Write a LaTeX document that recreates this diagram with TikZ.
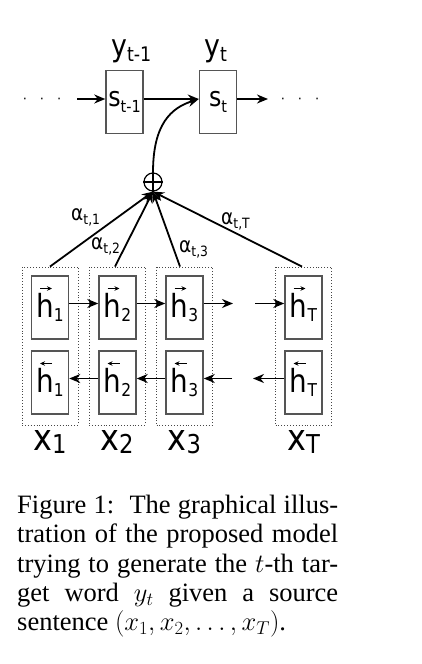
\RequirePackage{fix-cm}
\documentclass[tikz,border=0pt]{standalone}
\usepackage[no-math]{fontspec}
\usepackage{graphicx}
\setmainfont{Liberation Serif}
\newfontfamily\dv{DejaVu Sans}
\usetikzlibrary{arrows.meta}
\definecolor{cellgray}{RGB}{85,85,85}
\definecolor{grpgray}{RGB}{70,70,70}
\newcommand\lbl[5]{\scalebox{1.03}[1.18]{{\fontsize{#3pt}{#3pt}\selectfont #1}\raisebox{#5pt}{\fontsize{#4pt}{#4pt}\selectfont #2}}}
\begin{document}
\begin{tikzpicture}[x=1pt,y=-1pt,
  cell/.style={draw=cellgray,line width=1.5pt,minimum width=37pt,minimum height=63pt,inner sep=0pt,font=\dv},
  grp/.style={draw=grpgray,dotted,line width=0.9pt,minimum width=56pt,minimum height=158pt,inner sep=0pt},
  arr/.style={-{Stealth[length=11pt,width=9pt]},line width=1.8pt},
  hvec/.style={-{Stealth[length=5pt,width=4.5pt]},line width=1pt},
  txt/.style={font=\dv,inner sep=0pt},
  dots/.style={inner sep=0pt,font=\dv\fontsize{13}{13}\selectfont,anchor=base},
]
\fill[white] (0,0) rectangle (422,664);
\useasboundingbox (0,0) rectangle (422,664);

% decoder
\node[cell] (st1) at (124.5,102) {\lbl{s}{t-1}{23}{14}{-5}};
\node[cell] (st) at (218,102) {\lbl{s}{t}{23}{14}{-5}};
\node[txt,anchor=base west] (yt1) at (111,56) {\lbl{y}{t-1}{26}{17}{-5}};
\node[txt,anchor=base west] (yt) at (204,56) {\lbl{y}{t}{26}{17}{-5}};
\node[dots] (dl) at (42,103.5) {·\hspace{13pt}·\hspace{13pt}·};
\node[dots] (dr) at (300,103.5) {·\hspace{13pt}·\hspace{13pt}·};
\coordinate (lin) at (77,99);
\coordinate (rout) at (268,99);
\draw[arr] (lin) -- ([yshift=3pt]st1.west);
\draw[arr] ([yshift=3pt]st1.east) -- ([yshift=3pt]st.west);
\draw[arr] ([yshift=3pt]st.east) -- (rout);

% sum
\node[circle,draw,line width=1.2pt,minimum size=18pt,inner sep=0pt] (plus) at (153,182) {};
\draw[line width=1.2pt] (plus.north) -- (plus.south) (plus.west) -- (plus.east);
\draw[arr] (plus.north) .. controls +(0,-48) and +(-28,9) .. ([yshift=3pt]st.west);

% encoder groups
\node[grp] (d1) at (50,346) {};
\node[grp] (d2) at (117,346) {};
\node[grp] (d3) at (184.5,346) {};
\node[grp] (dT) at (303.5,346) {};

\foreach \n/\x/\s in {1/50/1,2/117.5/2,3/184.5/3,T/303.5/T}{
  \node[cell] (hf\n) at (\x,307.5) {\lbl{h}{\s}{27}{15}{-3}};
  \node[cell] (hb\n) at (\x,382.5) {\lbl{h}{\s}{27}{15}{-3}};
  \draw[hvec] ([shift={(-10,-19)}]hf\n.center) -- ++(12,0);
  \draw[hvec] ([shift={(2,-19)}]hb\n.center) -- ++(-12,0);
}

% forward chain
\draw[arr] ([yshift=4pt]hf1.east) -- ([yshift=4pt]hf2.west);
\draw[arr] ([yshift=4pt]hf2.east) -- ([yshift=4pt]hf3.west);
\coordinate (f3o) at (233,303.5);
\coordinate (fTi) at (255,303.5);
\draw[arr] ([yshift=4pt]hf3.east) -- (f3o);
\draw[arr] (fTi) -- ([yshift=4pt]hfT.west);
% backward chain
\draw[arr] ([yshift=4pt]hb2.west) -- ([yshift=4pt]hb1.east);
\draw[arr] ([yshift=4pt]hb3.west) -- ([yshift=4pt]hb2.east);
\coordinate (b3i) at (232,378.5);
\coordinate (bTo) at (253,378.5);
\draw[arr] (b3i) -- ([yshift=4pt]hb3.east);
\draw[arr] ([yshift=4pt]hbT.west) -- (bTo);

% attention
\draw[arr] (d1.north) -- (plus.south);
\draw[arr] ([xshift=-2pt]d2.north) -- (plus.south);
\draw[arr] ([xshift=-4.5pt]d3.north) -- (plus.south);
\draw[arr] ([xshift=-1.5pt]dT.north) -- (plus.south);
\node[txt,anchor=base west] (a1) at (71,220) {\lbl{α}{t,1}{18}{12}{-4}};
\node[txt,anchor=base west] (a2) at (91,249) {\lbl{α}{t,2}{18}{12}{-4}};
\node[txt,anchor=base west] (a3) at (179,252) {\lbl{α}{t,3}{18}{12}{-4}};
\node[txt,anchor=base west] (aT) at (221,224) {\lbl{α}{t,T}{18}{12}{-4}};

% inputs
\node[txt,anchor=base] (x1) at (50,450) {\lbl{x}{1}{31}{22}{-3}};
\node[txt,anchor=base] (x2) at (117,450) {\lbl{x}{2}{31}{22}{-3}};
\node[txt,anchor=base] (x3) at (184.5,450) {\lbl{x}{3}{31}{22}{-3}};
\node[txt,anchor=base] (xT) at (303.5,450) {\lbl{x}{T}{31}{22}{-3}};

% caption
\node[anchor=north west,inner sep=0pt,text width=321pt,align=justify,
      font=\fontsize{26.5}{29.25}\selectfont] (cap) at (17,495)
 {Figure 1:\hspace{0.2em} The graphical illus-\linebreak
  tration of the proposed model\linebreak
  trying to generate the $t$-th tar-\linebreak
  get word $y_t$ given a source\linebreak
  sentence $(x_1, x_2, \ldots, x_T)$.};
\end{tikzpicture}
\end{document}
